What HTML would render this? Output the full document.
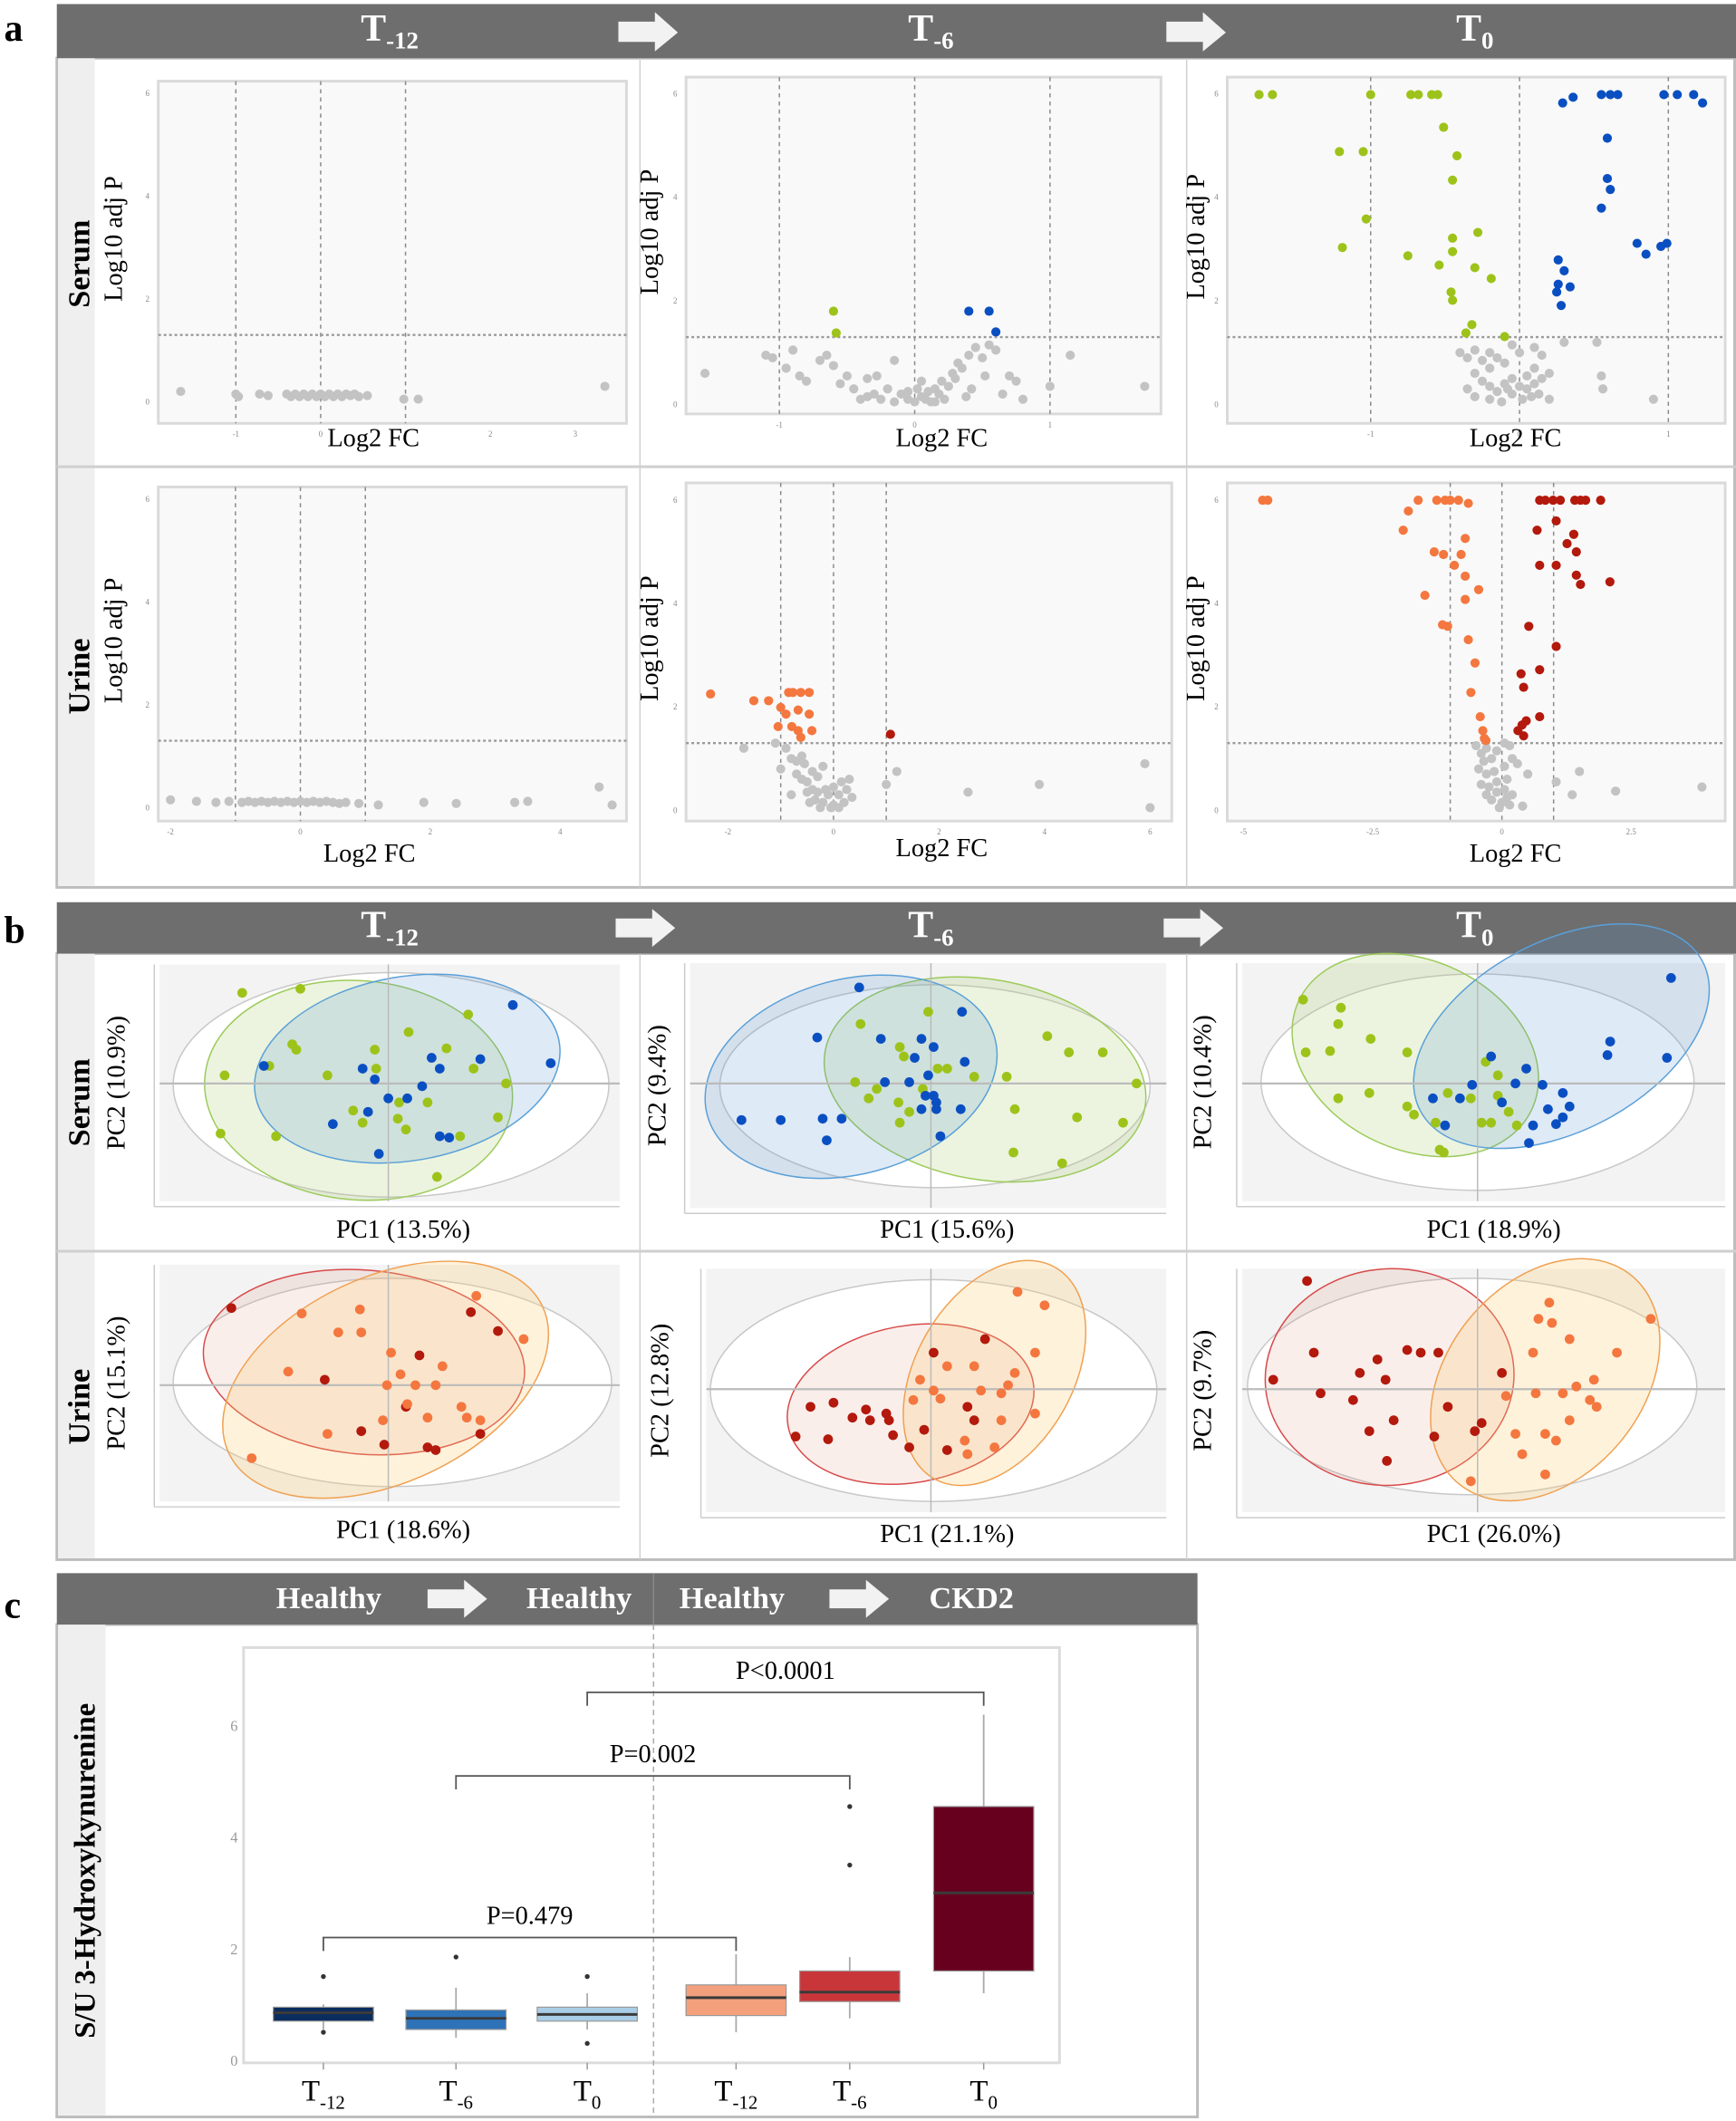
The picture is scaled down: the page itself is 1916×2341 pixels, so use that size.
<!DOCTYPE html>
<html><head><meta charset="utf-8"><style>
html,body{margin:0;padding:0;background:#fff;}
svg{display:block;font-family:"Liberation Serif",serif;}
svg text, svg tspan{font-family:"Liberation Serif","DejaVu Serif",serif;}
</style></head><body>
<svg id="fig" xmlns="http://www.w3.org/2000/svg" width="1916" height="2341" viewBox="0 0 1283 1568" preserveAspectRatio="none">
<rect x="0" y="0" width="1283" height="1568" fill="#fff"/>
<!-- panel a -->
<text x="3" y="30" font-size="28" font-weight="bold">a</text>
<rect x="42" y="43" width="1240" height="613" fill="#fff" stroke="#bdbdbd" stroke-width="2"/>
<rect x="43" y="43" width="27" height="612" fill="#efefef"/>
<line x1="42" y1="345" x2="1283" y2="345" stroke="#cfcfcf" stroke-width="2"/>
<line x1="473" y1="43" x2="473" y2="656" stroke="#d0d0d0" stroke-width="1"/>
<line x1="877" y1="43" x2="877" y2="656" stroke="#d0d0d0" stroke-width="1"/>
<rect x="42" y="3" width="1241" height="40" fill="#6e6e6e"/>
<text x="288" y="30" font-size="28" font-weight="bold" fill="#fff" text-anchor="middle">T<tspan font-size="18" dy="6">-12</tspan></text>
<text x="688" y="30" font-size="28" font-weight="bold" fill="#fff" text-anchor="middle">T<tspan font-size="18" dy="6">-6</tspan></text>
<text x="1090" y="30" font-size="28" font-weight="bold" fill="#fff" text-anchor="middle">T<tspan font-size="18" dy="6">0</tspan></text>
<polygon points="457,16 484,16 484,9 501,24 484,38 484,31 457,31" fill="#f2f2f2"/>
<polygon points="862,16 889,16 889,9 906,24 889,38 889,31 862,31" fill="#f2f2f2"/>
<text transform="translate(66,195) rotate(-90)" font-size="23" font-weight="bold" text-anchor="middle">Serum</text>
<text transform="translate(66,500) rotate(-90)" font-size="23" font-weight="bold" text-anchor="middle">Urine</text>

<!-- panel b -->
<text x="3" y="697" font-size="28" font-weight="bold">b</text>
<rect x="42" y="705" width="1240" height="448" fill="#fff" stroke="#bdbdbd" stroke-width="2"/>
<rect x="43" y="705" width="27" height="447" fill="#efefef"/>
<line x1="42" y1="925" x2="1283" y2="925" stroke="#cfcfcf" stroke-width="2"/>
<line x1="473" y1="705" x2="473" y2="1153" stroke="#d0d0d0"/>
<line x1="877" y1="705" x2="877" y2="1153" stroke="#d0d0d0"/>
<rect x="42" y="667" width="1241" height="38" fill="#6e6e6e"/>
<text x="288" y="693" font-size="28" font-weight="bold" fill="#fff" text-anchor="middle">T<tspan font-size="18" dy="6">-12</tspan></text>
<text x="688" y="693" font-size="28" font-weight="bold" fill="#fff" text-anchor="middle">T<tspan font-size="18" dy="6">-6</tspan></text>
<text x="1090" y="693" font-size="28" font-weight="bold" fill="#fff" text-anchor="middle">T<tspan font-size="18" dy="6">0</tspan></text>
<polygon points="455,679 482,679 482,672 499,686 482,700 482,693 455,693" fill="#f2f2f2"/>
<polygon points="860,679 887,679 887,672 904,686 887,700 887,693 860,693" fill="#f2f2f2"/>
<text transform="translate(66,815) rotate(-90)" font-size="23" font-weight="bold" text-anchor="middle">Serum</text>
<text transform="translate(66,1040) rotate(-90)" font-size="23" font-weight="bold" text-anchor="middle">Urine</text>

<!-- panel c -->
<text x="3" y="1196" font-size="28" font-weight="bold">c</text>
<rect x="42" y="1201" width="843" height="364" fill="#fff" stroke="#bdbdbd" stroke-width="2"/>
<rect x="43" y="1201" width="35" height="363" fill="#efefef"/>
<rect x="42" y="1163" width="843" height="38" fill="#6e6e6e"/>
<line x1="483" y1="1163" x2="483" y2="1201" stroke="#888"/>
<text x="243" y="1189" font-size="23" font-weight="bold" fill="#fff" text-anchor="middle">Healthy</text>
<polygon points="316,1175 343,1175 343,1168 360,1182 343,1196 343,1189 316,1189" fill="#f2f2f2"/>
<text x="428" y="1189" font-size="23" font-weight="bold" fill="#fff" text-anchor="middle">Healthy</text>
<text x="541" y="1189" font-size="23" font-weight="bold" fill="#fff" text-anchor="middle">Healthy</text>
<polygon points="613,1175 640,1175 640,1168 657,1182 640,1196 640,1189 613,1189" fill="#f2f2f2"/>
<text x="718" y="1189" font-size="23" font-weight="bold" fill="#fff" text-anchor="middle">CKD2</text>
<text transform="translate(70,1383) rotate(-90)" font-size="22" font-weight="bold" text-anchor="middle">S/U 3-Hydroxykynurenine</text>
<g id="layer"></g>
</svg>
<script>
// ===== Volcano data [log2FC, -log10 adj P] =====
const volSerT12Gray=[[-1.65,0.2],[-1.0,0.15],[-0.97,0.1],[-0.72,0.15],[-0.62,0.12],[-0.4,0.15],[-0.35,0.1],[-0.3,0.15],[-0.25,0.1],[-0.2,0.15],[-0.15,0.1],[-0.1,0.15],[-0.05,0.1],[0,0.15],[0.05,0.1],[0.1,0.15],[0.15,0.1],[0.2,0.15],[0.25,0.1],[0.3,0.15],[0.35,0.12],[0.4,0.15],[0.45,0.1],[0.55,0.12],[0.98,0.05],[1.15,0.05],[3.35,0.3]];
const volSerT6Gray=[[-1.55,0.6],[-1.1,0.95],[-1.05,0.9],[-0.9,1.05],[-0.95,0.7],[-0.85,0.55],[-0.8,0.45],[-0.7,0.85],[-0.65,0.95],[-0.6,0.75],[-0.55,0.4],[-0.5,0.55],[-0.45,0.3],[-0.4,0.1],[-0.35,0.5],[-0.3,0.2],[-0.28,0.55],[-0.2,0.3],[-0.15,0.85],[-0.1,0.2],[-0.05,0.1],[0,0.05],[0.02,0.3],[0.05,0.15],[0.08,0.1],[0.1,0.25],[0.12,0.05],[0.15,0.3],[0.18,0.2],[0.2,0.45],[0.22,0.1],[0.25,0.35],[0.28,0.6],[0.3,0.5],[0.32,0.8],[0.35,0.7],[0.38,0.15],[0.4,0.95],[0.42,0.3],[0.45,1.1],[0.5,0.9],[0.52,0.55],[0.55,1.15],[0.6,1.05],[0.65,0.2],[0.7,0.55],[0.75,0.45],[0.8,0.1],[1.0,0.35],[1.15,0.95],[1.7,0.35],[-0.35,0.15],[-0.25,0.1],[-0.15,0.05],[-0.05,0.25],[0.05,0.45],[0.15,0.05]];
const volSerT6Down=[[-0.6,1.8],[-0.58,1.38]];
const volSerT6Up=[[0.4,1.8],[0.55,1.8],[0.6,1.4]];
const volSerT0Gray=[[-0.4,1.0],[-0.35,0.9],[-0.3,1.05],[-0.25,0.85],[-0.2,1.0],[-0.15,0.9],[-0.1,0.8],[-0.05,1.15],[0,1.0],[0.1,1.1],[0.15,0.95],[0.3,1.2],[0.52,1.2],[-0.3,0.6],[-0.25,0.45],[-0.2,0.7],[0.05,0.55],[0.1,0.7],[0.2,0.6],[0.55,0.55],[-0.35,0.3],[-0.3,0.15],[-0.2,0.35],[-0.15,0.25],[-0.1,0.4],[-0.05,0.2],[0,0.35],[0.02,0.1],[0.05,0.3],[0.08,0.15],[0.1,0.4],[-0.12,0.05],[-0.08,0.3],[0.13,0.2],[0.2,0.1],[0.56,0.3],[0.9,0.1],[-0.2,0.1],[0.15,0.5],[-0.05,0.5]];
const volSerT0Down=[[-1.75,5.98],[-1.66,5.98],[-1.0,5.98],[-0.73,5.98],[-0.68,5.98],[-0.59,5.98],[-0.55,5.98],[-0.51,5.35],[-1.21,4.88],[-1.05,4.88],[-0.42,4.8],[-0.45,4.33],[-1.03,3.58],[-1.19,3.03],[-0.75,2.87],[-0.45,3.21],[-0.28,3.32],[-0.45,2.95],[-0.54,2.69],[-0.3,2.64],[-0.19,2.43],[-0.46,2.17],[-0.45,2.01],[-0.32,1.54],[-0.36,1.38],[-0.1,1.31]];
const volSerT0Up=[[0.29,5.82],[0.36,5.93],[0.55,5.98],[0.61,5.98],[0.66,5.98],[0.97,5.98],[1.06,5.98],[1.17,5.98],[1.23,5.82],[0.59,5.14],[0.59,4.36],[0.61,4.15],[0.55,3.79],[0.79,3.11],[0.85,2.9],[0.95,3.05],[0.99,3.11],[0.26,2.79],[0.3,2.58],[0.26,2.32],[0.25,2.17],[0.34,2.27],[0.28,1.91]];
const volUriT12Gray=[[-2.0,0.15],[-1.6,0.12],[-1.3,0.1],[-1.1,0.12],[-0.9,0.1],[-0.8,0.12],[-0.7,0.1],[-0.6,0.12],[-0.5,0.1],[-0.4,0.12],[-0.3,0.1],[-0.2,0.12],[-0.1,0.1],[0,0.12],[0.1,0.1],[0.2,0.12],[0.3,0.1],[0.4,0.12],[0.5,0.1],[0.6,0.08],[0.7,0.1],[0.9,0.08],[1.2,0.05],[1.9,0.1],[2.4,0.08],[3.3,0.1],[3.5,0.12],[4.6,0.4],[4.8,0.05]];
const volUriT6Gray=[[-1.7,1.2],[-1.0,0.8],[-1.1,1.3],[-0.9,1.2],[-0.8,1.0],[-0.7,0.95],[-0.6,1.05],[-0.55,0.9],[-0.7,0.7],[-0.6,0.6],[-0.5,0.55],[-0.4,0.75],[-0.3,0.65],[-0.2,0.85],[-0.5,0.35],[-0.4,0.4],[-0.35,0.2],[-0.3,0.35],[-0.2,0.15],[-0.15,0.4],[-0.1,0.3],[0,0.1],[0,0.45],[0.1,0.3],[0.15,0.55],[0.2,0.15],[0.25,0.4],[0.3,0.6],[0.35,0.25],[-0.25,0.05],[-0.05,0.05],[0.1,0.05],[-0.8,0.3],[1.0,0.5],[1.2,0.75],[2.55,0.35],[3.9,0.5],[5.9,0.9],[6.0,0.05],[-0.45,0.15]];
const volUriT6Down=[[-2.33,2.25],[-1.51,2.12],[-1.23,2.12],[-1.0,1.99],[-0.85,2.28],[-0.77,2.28],[-0.62,2.28],[-0.46,2.28],[-0.9,1.86],[-0.67,1.94],[-0.46,1.86],[-1.05,1.62],[-0.79,1.62],[-0.67,1.54],[-0.41,1.54],[-0.62,1.41]];
const volUriT6Up=[[1.08,1.47]];
const volUriT0Gray=[[-0.5,1.25],[-0.4,1.1],[-0.3,1.2],[-0.35,0.95],[-0.2,1.0],[-0.1,1.15],[0.05,1.3],[0.15,1.25],[0.2,1.0],[-0.45,0.8],[-0.3,0.7],[-0.15,0.75],[0.05,0.85],[0.3,0.9],[-0.4,0.5],[-0.25,0.45],[-0.1,0.55],[0.1,0.6],[0.5,0.7],[-0.3,0.3],[-0.2,0.2],[-0.1,0.35],[0,0.15],[0.05,0.4],[0.1,0.25],[0.2,0.3],[-0.05,0.05],[0.15,0.1],[0.4,0.08],[1.05,0.55],[1.36,0.3],[1.5,0.75],[2.2,0.37],[3.87,0.45]];
const volUriT0Down=[[-4.63,6],[-4.53,6],[-1.81,5.79],[-1.62,6],[-1.26,6],[-1.1,6],[-1.0,6],[-0.84,6],[-0.65,5.94],[-1.91,5.42],[-0.71,5.26],[-1.31,5.0],[-1.13,4.95],[-0.79,4.95],[-0.92,4.74],[-0.71,4.53],[-1.49,4.16],[-0.71,4.08],[-0.45,4.27],[-1.15,3.59],[-1.05,3.56],[-0.65,3.3],[-0.52,2.85],[-0.6,2.28],[-0.42,1.81],[-0.37,1.54],[-0.34,1.39],[-0.31,1.35]];
const volUriT0Up=[[0.73,6],[0.84,6],[0.99,6],[1.13,6],[1.41,6],[1.52,6],[1.62,6],[1.91,6],[0.68,5.42],[1.05,5.6],[1.26,5.16],[1.39,5.34],[0.73,4.74],[1.44,4.55],[1.44,5.0],[2.09,4.42],[1.52,4.37],[0.52,3.56],[1.05,3.17],[0.73,2.72],[0.37,2.64],[0.42,2.38],[0.47,1.73],[0.73,1.81],[0.39,1.65],[0.31,1.54],[0.42,1.44],[1.05,4.74]];
const volXTicksSerT12=[-1,0,1,2,3];
const volXTicksSerT6=[-1,0,1];
const volXTicksSerT0=[-1,0,1];
const volXTicksUriT12=[-2,0,2,4];
const volXTicksUriT6=[-2,0,2,4,6];
const volXTicksUriT0=[-5.0,-2.5,0.0,2.5];
const volYTicks=[0,2,4,6];
const volFCCut=[-1,0,1];
const volPCut=1.3;

// ===== PCA data [PC1, PC2] =====
const pcaSerT12A=[[-6.5,7.0],[-10.8,6.7],[-7.1,2.9],[-6.8,2.5],[-8.8,1.3],[-12.1,0.6],[-4.5,0.6],[-12.4,-3.7],[-8.3,-3.9],[-2.6,-2.0],[-1.9,-2.9],[-0.9,1.1],[-1.0,2.5],[0.8,-1.4],[1.3,-3.4],[1.5,3.8],[4.3,2.6],[5.9,5.1],[2.9,-1.4],[6.3,1.1],[8.7,0],[8.1,-2.5],[5.3,-3.9],[3.6,-6.9],[0.7,-2.6]];
const pcaSerT12B=[[9.2,5.8],[12.0,1.5],[6.8,1.8],[3.2,1.9],[3.8,1.1],[-1.9,1.1],[-4.1,-3.0],[-1.0,0.3],[-1.5,-2.1],[-0.7,-5.2],[2.5,-0.2],[3.8,-3.9],[4.5,-4.0],[-9.2,1.3],[0,-1.1],[1.4,-1.1]];
const pcaSerT6A=[[-5.2,4.4],[-0.2,5.3],[-2.3,2.7],[-2,2],[0.5,1.1],[8.6,3.5],[10.2,2.3],[12.7,2.3],[3.2,0.5],[5.6,0.5],[-5.6,0.1],[-4,-0.4],[-2.4,-1.4],[-0.6,-0.4],[-1.6,-2.1],[-2.3,-2.9],[-4.6,-1.1],[6.2,-1.9],[14.2,-2.9],[15.2,0],[10.8,-2.5],[6.1,-5.1],[9.7,-5.9],[1.2,1.1]];
const pcaSerT6B=[[-5.3,7.1],[-8.4,3.4],[-3.7,3.3],[-0.7,3.3],[-1.2,1.9],[0.2,2.7],[2.3,5.3],[2.5,1.6],[-0.2,0.6],[-1.6,0.1],[-3.4,0.1],[-0.4,-0.9],[0.4,-1.4],[-0.7,-1.9],[0.4,-1.9],[-6.6,-2.6],[-11.1,-2.7],[-14,-2.7],[-8,-2.6],[-7.7,-4.2],[2.2,-1.9],[0.7,-3.9],[0.2,-0.9]];
const pcaSerT0A=[[-12.9,6.2],[-10.3,4.4],[-10.1,5.6],[-10.9,2.4],[-12.7,2.3],[-7.9,3.3],[-5.2,2.3],[-8,-0.7],[-10.3,-1.1],[-5.2,-1.7],[-4.7,-2.3],[-3.1,-2.9],[-2.8,-4.9],[-2.5,-5.1],[0.6,1.6],[1.5,0.6],[-2.2,-0.7],[-0.5,-1.1],[1.5,-0.9],[2.3,-2.1],[1,-2.9],[2.9,-3.1],[0.3,-2.9]];
const pcaSerT0B=[[14.3,7.8],[9.8,3.1],[9.6,2.1],[14,1.9],[1,2],[3.6,1.1],[2.8,0],[4.8,-0.1],[-1.3,-1.1],[-3.3,-1.1],[-2.4,-3.1],[6.3,-0.7],[6.8,-1.7],[6.3,-2.5],[5.2,-1.9],[4.1,-3.1],[5.8,-3],[3.8,-4.4],[-0.4,-0.1],[1.8,-1.4]];
const pcaUriT12A=[[-11.6,5.7],[-2,-3.4],[6.1,5.4],[8.1,4],[-4.7,0.4],[2.3,2.2],[-0.3,-4.4],[2.9,-4.6],[3.5,-4.8],[6.8,-3.6],[1.3,-1.6]];
const pcaUriT12B=[[-6.4,5.3],[-2.1,5.6],[0.2,2.4],[-3.7,3.9],[-2,3.9],[-7.4,1],[-0.1,0],[2,0],[0.9,0.8],[1.4,-1.4],[-0.4,-2.6],[2.9,-2.4],[3.5,0],[5.4,-1.6],[5.8,-2.4],[6.8,-2.6],[-4.5,-3.6],[-10.1,-5.4],[10,3.4],[6.5,6.6],[4,1.4]];
const pcaUriT6A=[[-8.9,-1.3],[-10,-3.5],[-7.2,-1],[-4.8,-1.5],[-4.5,-2.3],[-3.3,-1.8],[-3.1,-2.3],[-7.6,-3.7],[-2.8,-3.4],[-5.8,-2.1],[-1.6,-4.3],[-0.5,-3],[0.2,2.7],[2.7,-1.3],[3.2,-2.3],[4,3.7],[1.2,-4.5]];
const pcaUriT6B=[[6.4,7.2],[8.4,6.2],[7.7,2.7],[6.2,1.2],[5.2,-0.3],[3.7,-0.1],[1.2,1.7],[0.2,-0.1],[-1.3,-0.8],[0.7,-0.7],[2.5,-3.8],[2.7,-4.8],[5.7,0.3],[7.7,-1.8],[5.2,-2.3],[4.7,-4.3],[-0.8,0.7],[3.2,1.7]];
const pcaUriT0A=[[-12.6,8],[-15.1,0.7],[-12.1,2.7],[-11.6,-0.3],[-9.2,-0.8],[-8.7,1.2],[-7.4,2.2],[-6.8,0.7],[-5.2,2.9],[-4.2,2.7],[-2.9,2.7],[-6.2,-2.3],[-8,-3.1],[-6.7,-5.3],[-3.2,-3.5],[-2.2,-1.3],[1.8,1.2],[0.3,-2.5],[-0.2,-3.1]];
const pcaUriT0B=[[2.1,-0.5],[4.5,5.2],[5.3,6.4],[5.5,4.9],[4.1,2.7],[6.8,3.7],[10.3,2.7],[12.8,5.2],[8.6,0.7],[7.3,0.2],[4.3,-0.3],[5,-3.3],[5.8,-3.8],[6.8,-2.3],[8.8,-1.3],[8.3,-0.8],[3.3,-4.8],[5,-6.3],[-0.5,-6.8],[2.8,-3.3],[6.3,-0.3]];
// confidence ellipses [cx, cy, rx, ry, angle]
const ellSerT12=[[0.2,-0.1,16.1,8.3,0],[-2.2,-0.5,11.4,8.1,5],[1.4,1.1,11.4,6.8,-10]];
const ellSerT6=[[0.3,-0.2,15.9,7.5,0],[4,0.3,12,7.4,10],[-5.9,0.5,11,7.2,-15]];
const ellSerT0=[[0,0.1,16,8,0],[-4.6,2.1,9.5,7,25],[6.2,3.5,11.8,7,-28]];
const ellUriT12=[[0.3,0.2,16.2,7.7,0],[-1.8,1.7,11.9,6.8,5],[-0.2,0.4,12.8,7.6,-25]];
const ellUriT6=[[0.2,-0.1,16.5,8.2,0],[-1.5,-1.1,9.2,5.8,-10],[4.7,1.2,9.0,5.8,-60]];
const ellUriT0=[[-0.4,0.2,16.6,8,0],[-6.5,0.9,9.2,8,-5],[5,0.7,10,7.2,-50]];
const pcaXLabels=["PC1 (13.5%)","PC1 (15.6%)","PC1 (18.9%)","PC1 (18.6%)","PC1 (21.1%)","PC1 (26.0%)"];
const pcaYLabels=["PC2 (10.9%)","PC2 (9.4%)","PC2 (10.4%)","PC2 (15.1%)","PC2 (12.8%)","PC2 (9.7%)"];

// ===== Boxplot data =====
const boxCats=["-12","-6","0","-12","-6","0"];
const boxQ1=[0.7,0.55,0.7,0.8,1.05,1.6];
const boxMed=[0.85,0.75,0.82,1.12,1.22,3.0];
const boxQ3=[0.95,0.9,0.95,1.35,1.6,4.55];
const boxLo=[0.55,0.4,0.55,0.5,0.75,1.2];
const boxHi=[1.0,1.3,1.2,1.9,1.85,6.2];
const boxOutliers=[[1.5,0.5],[1.85],[1.5,0.3],[],[3.5,4.55],[]];
const boxColors=["#0b2d5e","#2e72b8","#a9cde6","#f4a07c","#c9363a","#67001f"];
const boxYTicks=[0,2,4,6];
const brkFrom=[0,1,2];
const brkTo=[3,4,5];
const brkY=[2.2,5.1,6.6];
const brkLabels=["P=0.479","P=0.002","P<0.0001"];

const NS="http://www.w3.org/2000/svg";
const layer=document.getElementById("layer");
function mk(tag,attrs,name,parent){
  const e=document.createElementNS(NS,tag);
  for(const k in attrs) e.setAttribute(k,attrs[k]);
  
  
  (parent||layer).appendChild(e);
  return e;
}
function txt(x,y,s,size,name,extra){
  const a=Object.assign({x:x,y:y,"font-size":size,"text-anchor":"middle"},extra||{});
  const t=mk("text",a,name);
  t.textContent=s;
  return t;
}

// ---- volcano panels ----
const GRAY="#c3c3c3",LG="#9dc31a",BL="#0a4fc2",OR="#f4773f",DR="#b3190c";
const volPanels=[
 {id:"serum-t12",box:[117,60,463,313],x0:237,xs:62.7,y0:297,ys:38,xt:volXTicksSerT12,xl:[276,330],yl:90,sets:[[volSerT12Gray,GRAY]]},
 {id:"serum-t6",box:[507,57,858,306],x0:676,xs:100,y0:299,ys:38.3,xt:volXTicksSerT6,xl:[696,330],yl:486,sets:[[volSerT6Gray,GRAY],[volSerT6Down,LG],[volSerT6Up,BL]]},
 {id:"serum-t0",box:[907,57,1275,313],x0:1123,xs:110,y0:299,ys:38.3,xt:volXTicksSerT0,xl:[1120,330],yl:890,sets:[[volSerT0Gray,GRAY],[volSerT0Down,LG],[volSerT0Up,BL]]},
 {id:"urine-t12",box:[117,360,463,607],x0:222,xs:48,y0:597,ys:38,xt:volXTicksUriT12,xl:[273,637],yl:90,sets:[[volUriT12Gray,GRAY]]},
 {id:"urine-t6",box:[507,357,866,607],x0:616,xs:39,y0:599,ys:38.2,xt:volXTicksUriT6,xl:[696,633],yl:486,sets:[[volUriT6Gray,GRAY],[volUriT6Down,OR],[volUriT6Up,DR]]},
 {id:"urine-t0",box:[907,357,1275,607],x0:1110,xs:38.2,y0:599,ys:38.2,xt:volXTicksUriT0,xl:[1120,637],yl:890,sets:[[volUriT0Gray,GRAY],[volUriT0Down,OR],[volUriT0Up,DR]]}
];
volPanels.forEach(p=>{
  const [x1,y1,x2,y2]=p.box;
  const X=v=>p.x0+v*p.xs, Y=v=>p.y0-v*p.ys;
  mk("rect",{x:x1,y:y1,width:x2-x1,height:y2-y1,fill:"#f9f9f9",stroke:"#dadada","stroke-width":2},"volcano-plot-area-"+p.id);
  volFCCut.forEach(c=>{
    mk("line",{x1:X(c),y1:y1,x2:X(c),y2:y2,stroke:"#8a8a8a","stroke-width":1,"stroke-dasharray":"3,3"},"fc-cutoff-line");
  });
  mk("line",{x1:x1,y1:Y(volPCut),x2:x2,y2:Y(volPCut),stroke:"#9a9a9a","stroke-width":1.6,"stroke-dasharray":"2,2"},"p-cutoff-line");
  p.xt.forEach(t=>{
    txt(X(t),y2+10,String(t),6,"x-tick-label",{fill:"#888"});
  });
  volYTicks.forEach(t=>{
    txt(x1-8,Y(t)+2,String(t),6,"y-tick-label",{fill:"#888"});
  });
  p.sets.forEach(([arr,col])=>{
    arr.forEach(d=>{
      mk("circle",{cx:X(d[0]),cy:Y(d[1]),r:3.4,fill:col},"volcano-point");
    });
  });
  txt(p.xl[0],p.xl[1],"Log2 FC",19,"volcano-x-axis-title");
  const cy=(y1+y2)/2-10;
  mk("text",{transform:`translate(${p.yl},${cy}) rotate(-90)`,"font-size":19,"text-anchor":"middle"},"volcano-y-axis-title").textContent="Log10 adj P";
});

// ---- PCA panels ----
const pcaPanels=[
 {id:"serum-t12",box:[118,713,458,888],o:[287,801],A:pcaSerT12A,B:pcaSerT12B,E:ellSerT12,ca:LG,cb:BL,xl:[298,915],yl:92,k:"s"},
 {id:"serum-t6",box:[510,712,862,893],o:[688,801],A:pcaSerT6A,B:pcaSerT6B,E:ellSerT6,ca:LG,cb:BL,xl:[700,915],yl:492,k:"s"},
 {id:"serum-t0",box:[918,712,1275,888],o:[1092,801],A:pcaSerT0A,B:pcaSerT0B,E:ellSerT0,ca:LG,cb:BL,xl:[1104,915],yl:895,k:"s"},
 {id:"urine-t12",box:[118,935,458,1110],o:[287,1024],A:pcaUriT12A,B:pcaUriT12B,E:ellUriT12,ca:DR,cb:OR,xl:[298,1137],yl:92,k:"u"},
 {id:"urine-t6",box:[522,938,862,1118],o:[688,1027],A:pcaUriT6A,B:pcaUriT6B,E:ellUriT6,ca:DR,cb:OR,xl:[700,1140],yl:494,k:"u"},
 {id:"urine-t0",box:[918,938,1275,1118],o:[1092,1027],A:pcaUriT0A,B:pcaUriT0B,E:ellUriT0,ca:DR,cb:OR,xl:[1104,1140],yl:895,k:"u"}
];
const PX=10,PY=10;
pcaPanels.forEach((p,i)=>{
  const [x1,y1,x2,y2]=p.box;
  const X=v=>p.o[0]+v*PX, Y=v=>p.o[1]-v*PY;
  const g=mk("g",{},"pca-plot-"+p.id);
  mk("rect",{x:x1,y:y1,width:x2-x1,height:y2-y1,fill:"#f3f3f3"},"pca-plot-area",g);
  const ellStyles=p.k==="s"
    ?[["#fff","#c8c8c8",1],["rgba(170,205,110,0.22)","#9ccb5a",1],["rgba(80,140,210,0.18)","#5aa0d8",1]]
    :[["#fff","#c8c8c8",1],["rgba(215,120,100,0.13)","#d84a4a",1],["rgba(250,205,110,0.25)","#f0a050",1]];
  p.E.forEach((e,j)=>{
    mk("ellipse",{cx:X(e[0]),cy:Y(e[1]),rx:e[2]*PX,ry:e[3]*PY,transform:`rotate(${e[4]} ${X(e[0])} ${Y(e[1])})`,fill:ellStyles[j][0],stroke:ellStyles[j][1],"stroke-width":ellStyles[j][2]},j===0?"hotelling-ellipse":"group-ellipse",g);
  });
  mk("line",{x1:x1,y1:p.o[1],x2:x2,y2:p.o[1],stroke:"#bbb","stroke-width":1.5},"pca-zero-line-x",g);
  mk("line",{x1:p.o[0],y1:y1,x2:p.o[0],y2:y2,stroke:"#bbb","stroke-width":1},"pca-zero-line-y",g);
  mk("line",{x1:x1-4,y1:y1,x2:x1-4,y2:y2+4,stroke:"#ccc"},"pca-y-axis",g);
  mk("line",{x1:x1-4,y1:y2+4,x2:x2,y2:y2+4,stroke:"#ccc"},"pca-x-axis",g);
  p.A.forEach(d=>{
    mk("circle",{cx:X(d[0]),cy:Y(d[1]),r:3.6,fill:p.ca},"pca-point-group-a",g);
  });
  p.B.forEach(d=>{
    mk("circle",{cx:X(d[0]),cy:Y(d[1]),r:3.6,fill:p.cb},"pca-point-group-b",g);
  });
  txt(p.xl[0],p.xl[1],pcaXLabels[i],19,"pca-x-axis-title");
  mk("text",{transform:`translate(${p.yl},${(y1+y2)/2}) rotate(-90)`,"font-size":19,"text-anchor":"middle"},"pca-y-axis-title").textContent=pcaYLabels[i];
});

// ---- Boxplot ----
(function(){
  const bx1=180,by1=1218,bx2=783,by2=1525;
  const catX=[239,337,434,544,628,727];
  const Y=v=>1523-v*41.2;
  mk("rect",{x:bx1,y:by1,width:bx2-bx1,height:by2-by1,fill:"#fff",stroke:"#dcdcdc","stroke-width":2},"boxplot-plot-area");
  mk("line",{x1:483,y1:1201,x2:483,y2:1565,stroke:"#aaa","stroke-dasharray":"4,3"},"group-divider-line");
  boxYTicks.forEach(t=>{
    txt(173,Y(t)+4,String(t),11,"boxplot-y-tick-label",{fill:"#999"});
  });
  const bw=74;
  boxCats.forEach((c,i)=>{
    const x=catX[i];
    mk("line",{x1:x,y1:Y(boxLo[i]),x2:x,y2:Y(boxHi[i]),stroke:"#aaa","stroke-width":1.2},"box-whisker");
    mk("rect",{x:x-bw/2,y:Y(boxQ3[i]),width:bw,height:Y(boxQ1[i])-Y(boxQ3[i]),fill:boxColors[i],stroke:"#999","stroke-width":0.8},"box-"+i);
    mk("line",{x1:x-bw/2,y1:Y(boxMed[i]),x2:x+bw/2,y2:Y(boxMed[i]),stroke:"#3a3a3a","stroke-width":2},"box-median");
    boxOutliers[i].forEach(o=>{
      mk("circle",{cx:x,cy:Y(o),r:1.8,fill:"#333"},"box-outlier");
    });
    mk("line",{x1:x,y1:by2,x2:x,y2:by2+5,stroke:"#999"},"boxplot-x-tick");
    const t=mk("text",{x:x,y:1553,"font-size":22,"text-anchor":"middle"},"boxplot-x-tick-label");
    t.textContent="T";
    const s=document.createElementNS(NS,"tspan");
    s.setAttribute("font-size","14");
    s.setAttribute("dy","6");
    s.textContent=c;
    t.appendChild(s);
  });
  brkLabels.forEach((lab,k)=>{
    const xa=catX[brkFrom[k]],xb=catX[brkTo[k]],y=Y(brkY[k]);
    mk("path",{d:`M${xa},${y+10}V${y}H${xb}V${y+10}`,fill:"none",stroke:"#555","stroke-width":1.2},"significance-bracket");
    txt((xa+xb)/2,y-10,lab,19,"significance-label");
  });
})();
</script>
</body></html>
